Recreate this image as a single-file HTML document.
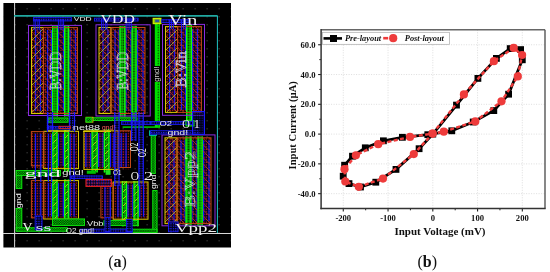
<!DOCTYPE html>
<html><head><meta charset="utf-8"><title>Layout and hysteresis</title>
<style>html,body{margin:0;padding:0;background:#fff;} body{width:550px;height:272px;overflow:hidden;position:relative;} svg{position:absolute;left:0;top:0;}</style>
</head><body>
<svg width="550" height="272" viewBox="0 0 550 272">

<defs>
<pattern id="hatchR" patternUnits="userSpaceOnUse" width="9" height="9">
 <path d="M0,9 L9,0 M-2,2 L2,-2 M7,11 L11,7" stroke="#b0b830" stroke-width="0.8"/>
</pattern>
<pattern id="hatchY" patternUnits="userSpaceOnUse" width="7" height="7">
 <path d="M0,7 L7,0 M-2,2 L2,-2 M5,9 L9,5" stroke="#d8d020" stroke-width="0.8"/>
</pattern>
<pattern id="hatchB" patternUnits="userSpaceOnUse" width="6.5" height="6.5">
 <path d="M0,0 L6.5,6.5 M-2,4.5 L2,8.5 M4.5,-2 L8.5,2" stroke="#c83820" stroke-width="0.8"/>
</pattern>
<pattern id="rdots" patternUnits="userSpaceOnUse" width="2.6" height="2.6">
 <rect x="0.5" y="0.5" width="1.25" height="1.25" fill="#d01c1c"/>
</pattern>
<pattern id="gchk" patternUnits="userSpaceOnUse" width="2.6" height="2.6">
 <rect width="2.6" height="2.6" fill="#00c800"/>
 <rect x="0.5" y="0.5" width="1.6" height="1.6" fill="#0a3000"/>
</pattern>
<pattern id="bdots" patternUnits="userSpaceOnUse" width="2.4" height="2.4">
 <rect width="2.4" height="2.4" fill="#000018"/>
 <rect x="0" y="0" width="1.2" height="1.2" fill="#2424ff"/>
</pattern>
<pattern id="gbar" patternUnits="userSpaceOnUse" width="2.4" height="2.4">
 <rect width="2.4" height="2.4" fill="#002000"/>
 <rect x="0" y="0" width="1.2" height="1.2" fill="#00e000"/>
 <rect x="1.2" y="1.2" width="1.2" height="1.2" fill="#00e000"/>
</pattern>
<pattern id="gbarB" patternUnits="userSpaceOnUse" x="154.8" y="0" width="5.2" height="2.6">
 <rect width="5.2" height="2.6" fill="#00e000"/>
 <rect x="3.0" y="0.6" width="1.2" height="1.3" fill="#063000"/>
</pattern>
<pattern id="bdotsT" patternUnits="userSpaceOnUse" width="2.4" height="2.4">
 <rect x="0" y="0" width="1.2" height="1.2" fill="#2424ff"/>
</pattern>
<pattern id="griddots" patternUnits="userSpaceOnUse" x="2.6" y="0.3" width="12" height="8">
 <rect x="0" y="0" width="1" height="1" fill="#555"/>
</pattern>
</defs>
<g id="layout">
<rect x="3.4" y="3" width="227.6" height="244.5" fill="#000"/>
<rect x="3" y="3" width="228" height="244.5" fill="url(#griddots)"/>
<rect x="31.50" y="27.60" width="46.00" height="85.90" fill="url(#rdots)" />
<rect x="35.50" y="30.00" width="5.00" height="81.10" fill="#00002a" />
<rect x="35.50" y="30.00" width="5.00" height="81.10" fill="url(#rdots)" />
<line x1="35.50" y1="30.00" x2="35.50" y2="111.10" stroke="#1a1aff" stroke-width="1.2" />
<line x1="40.50" y1="30.00" x2="40.50" y2="111.10" stroke="#1a1aff" stroke-width="1.2" />
<rect x="47.50" y="30.00" width="4.00" height="81.10" fill="#00002a" />
<rect x="47.50" y="30.00" width="4.00" height="81.10" fill="url(#rdots)" />
<line x1="47.50" y1="30.00" x2="47.50" y2="111.10" stroke="#1a1aff" stroke-width="1.2" />
<line x1="51.50" y1="30.00" x2="51.50" y2="111.10" stroke="#1a1aff" stroke-width="1.2" />
<rect x="58.50" y="30.00" width="5.00" height="81.10" fill="#00002a" />
<rect x="58.50" y="30.00" width="5.00" height="81.10" fill="url(#rdots)" />
<line x1="58.50" y1="30.00" x2="58.50" y2="111.10" stroke="#1a1aff" stroke-width="1.2" />
<line x1="63.50" y1="30.00" x2="63.50" y2="111.10" stroke="#1a1aff" stroke-width="1.2" />
<rect x="70.00" y="30.00" width="5.50" height="81.10" fill="#00002a" />
<rect x="70.00" y="30.00" width="5.50" height="81.10" fill="url(#rdots)" />
<line x1="70.00" y1="30.00" x2="70.00" y2="111.10" stroke="#1a1aff" stroke-width="1.2" />
<line x1="75.50" y1="30.00" x2="75.50" y2="111.10" stroke="#1a1aff" stroke-width="1.2" />
<rect x="43.50" y="27.60" width="34.00" height="85.90" fill="url(#hatchB)" />
<rect x="31.50" y="27.60" width="12.00" height="85.90" fill="url(#hatchB)" />
<rect x="31.50" y="27.60" width="12.00" height="85.90" fill="url(#hatchR)" />
<rect x="52.00" y="26.10" width="6.00" height="90.40" fill="url(#gchk)" />
<line x1="52.60" y1="26.10" x2="52.60" y2="116.50" stroke="#10ff10" stroke-width="1.2" />
<line x1="57.40" y1="26.10" x2="57.40" y2="116.50" stroke="#10ff10" stroke-width="1.2" />
<rect x="64.00" y="26.10" width="5.20" height="90.40" fill="url(#gchk)" />
<line x1="64.60" y1="26.10" x2="64.60" y2="116.50" stroke="#10ff10" stroke-width="1.2" />
<line x1="68.60" y1="26.10" x2="68.60" y2="116.50" stroke="#10ff10" stroke-width="1.2" />
<rect x="31.50" y="27.60" width="12.00" height="85.90" fill="none" stroke="#d8c800" stroke-width="1.0" />
<rect x="43.50" y="27.60" width="34.00" height="85.90" fill="none" stroke="#c04818" stroke-width="1.0" />
<rect x="28.50" y="25.40" width="53.00" height="90.10" fill="none" stroke="#8a2be2" stroke-width="1.0" />
<rect x="99.00" y="27.50" width="46.00" height="86.00" fill="url(#rdots)" />
<rect x="103.00" y="29.90" width="5.00" height="81.20" fill="#00002a" />
<rect x="103.00" y="29.90" width="5.00" height="81.20" fill="url(#rdots)" />
<line x1="103.00" y1="29.90" x2="103.00" y2="111.10" stroke="#1a1aff" stroke-width="1.2" />
<line x1="108.00" y1="29.90" x2="108.00" y2="111.10" stroke="#1a1aff" stroke-width="1.2" />
<rect x="115.00" y="29.90" width="4.00" height="81.20" fill="#00002a" />
<rect x="115.00" y="29.90" width="4.00" height="81.20" fill="url(#rdots)" />
<line x1="115.00" y1="29.90" x2="115.00" y2="111.10" stroke="#1a1aff" stroke-width="1.2" />
<line x1="119.00" y1="29.90" x2="119.00" y2="111.10" stroke="#1a1aff" stroke-width="1.2" />
<rect x="126.00" y="29.90" width="5.00" height="81.20" fill="#00002a" />
<rect x="126.00" y="29.90" width="5.00" height="81.20" fill="url(#rdots)" />
<line x1="126.00" y1="29.90" x2="126.00" y2="111.10" stroke="#1a1aff" stroke-width="1.2" />
<line x1="131.00" y1="29.90" x2="131.00" y2="111.10" stroke="#1a1aff" stroke-width="1.2" />
<rect x="137.50" y="29.90" width="5.50" height="81.20" fill="#00002a" />
<rect x="137.50" y="29.90" width="5.50" height="81.20" fill="url(#rdots)" />
<line x1="137.50" y1="29.90" x2="137.50" y2="111.10" stroke="#1a1aff" stroke-width="1.2" />
<line x1="143.00" y1="29.90" x2="143.00" y2="111.10" stroke="#1a1aff" stroke-width="1.2" />
<rect x="111.00" y="27.50" width="34.00" height="86.00" fill="url(#hatchB)" />
<rect x="99.00" y="27.50" width="12.00" height="86.00" fill="url(#hatchB)" />
<rect x="99.00" y="27.50" width="12.00" height="86.00" fill="url(#hatchR)" />
<rect x="119.50" y="26.00" width="6.00" height="90.50" fill="url(#gchk)" />
<line x1="120.10" y1="26.00" x2="120.10" y2="116.50" stroke="#10ff10" stroke-width="1.2" />
<line x1="124.90" y1="26.00" x2="124.90" y2="116.50" stroke="#10ff10" stroke-width="1.2" />
<rect x="131.50" y="26.00" width="5.20" height="90.50" fill="url(#gchk)" />
<line x1="132.10" y1="26.00" x2="132.10" y2="116.50" stroke="#10ff10" stroke-width="1.2" />
<line x1="136.10" y1="26.00" x2="136.10" y2="116.50" stroke="#10ff10" stroke-width="1.2" />
<rect x="99.00" y="27.50" width="12.00" height="86.00" fill="none" stroke="#d8c800" stroke-width="1.0" />
<rect x="111.00" y="27.50" width="34.00" height="86.00" fill="none" stroke="#c04818" stroke-width="1.0" />
<rect x="96.00" y="24.80" width="54.20" height="91.20" fill="none" stroke="#8a2be2" stroke-width="1.0" />
<rect x="165.50" y="26.60" width="35.90" height="85.80" fill="url(#rdots)" />
<rect x="169.50" y="29.00" width="5.00" height="81.00" fill="#00002a" />
<rect x="169.50" y="29.00" width="5.00" height="81.00" fill="url(#rdots)" />
<line x1="169.50" y1="29.00" x2="169.50" y2="110.00" stroke="#1a1aff" stroke-width="1.2" />
<line x1="174.50" y1="29.00" x2="174.50" y2="110.00" stroke="#1a1aff" stroke-width="1.2" />
<rect x="181.50" y="29.00" width="4.00" height="81.00" fill="#00002a" />
<rect x="181.50" y="29.00" width="4.00" height="81.00" fill="url(#rdots)" />
<line x1="181.50" y1="29.00" x2="181.50" y2="110.00" stroke="#1a1aff" stroke-width="1.2" />
<line x1="185.50" y1="29.00" x2="185.50" y2="110.00" stroke="#1a1aff" stroke-width="1.2" />
<rect x="192.50" y="29.00" width="5.00" height="81.00" fill="#00002a" />
<rect x="192.50" y="29.00" width="5.00" height="81.00" fill="url(#rdots)" />
<line x1="192.50" y1="29.00" x2="192.50" y2="110.00" stroke="#1a1aff" stroke-width="1.2" />
<line x1="197.50" y1="29.00" x2="197.50" y2="110.00" stroke="#1a1aff" stroke-width="1.2" />
<rect x="177.50" y="26.60" width="23.90" height="85.80" fill="url(#hatchB)" />
<rect x="165.50" y="26.60" width="12.00" height="85.80" fill="url(#hatchB)" />
<rect x="165.50" y="26.60" width="12.00" height="85.80" fill="url(#hatchR)" />
<rect x="186.00" y="25.10" width="6.00" height="100.30" fill="url(#gchk)" />
<line x1="186.60" y1="25.10" x2="186.60" y2="125.40" stroke="#10ff10" stroke-width="1.2" />
<line x1="191.40" y1="25.10" x2="191.40" y2="125.40" stroke="#10ff10" stroke-width="1.2" />
<rect x="165.50" y="26.60" width="12.00" height="85.80" fill="none" stroke="#d8c800" stroke-width="1.0" />
<rect x="177.50" y="26.60" width="23.90" height="85.80" fill="none" stroke="#c04818" stroke-width="1.0" />
<rect x="162.50" y="24.40" width="42.00" height="90.90" fill="none" stroke="#8a2be2" stroke-width="1.0" />
<rect x="165.00" y="137.80" width="46.00" height="85.80" fill="url(#rdots)" />
<rect x="169.00" y="140.20" width="5.00" height="81.00" fill="#00002a" />
<rect x="169.00" y="140.20" width="5.00" height="81.00" fill="url(#rdots)" />
<line x1="169.00" y1="140.20" x2="169.00" y2="221.20" stroke="#1a1aff" stroke-width="1.2" />
<line x1="174.00" y1="140.20" x2="174.00" y2="221.20" stroke="#1a1aff" stroke-width="1.2" />
<rect x="181.00" y="140.20" width="4.00" height="81.00" fill="#00002a" />
<rect x="181.00" y="140.20" width="4.00" height="81.00" fill="url(#rdots)" />
<line x1="181.00" y1="140.20" x2="181.00" y2="221.20" stroke="#1a1aff" stroke-width="1.2" />
<line x1="185.00" y1="140.20" x2="185.00" y2="221.20" stroke="#1a1aff" stroke-width="1.2" />
<rect x="192.00" y="140.20" width="5.00" height="81.00" fill="#00002a" />
<rect x="192.00" y="140.20" width="5.00" height="81.00" fill="url(#rdots)" />
<line x1="192.00" y1="140.20" x2="192.00" y2="221.20" stroke="#1a1aff" stroke-width="1.2" />
<line x1="197.00" y1="140.20" x2="197.00" y2="221.20" stroke="#1a1aff" stroke-width="1.2" />
<rect x="203.50" y="140.20" width="5.50" height="81.00" fill="#00002a" />
<rect x="203.50" y="140.20" width="5.50" height="81.00" fill="url(#rdots)" />
<line x1="203.50" y1="140.20" x2="203.50" y2="221.20" stroke="#1a1aff" stroke-width="1.2" />
<line x1="209.00" y1="140.20" x2="209.00" y2="221.20" stroke="#1a1aff" stroke-width="1.2" />
<rect x="177.00" y="137.80" width="34.00" height="85.80" fill="url(#hatchB)" />
<rect x="165.00" y="137.80" width="12.00" height="85.80" fill="url(#hatchB)" />
<rect x="165.00" y="137.80" width="12.00" height="85.80" fill="url(#hatchR)" />
<rect x="185.50" y="136.30" width="6.00" height="90.30" fill="url(#gchk)" />
<line x1="186.10" y1="136.30" x2="186.10" y2="226.60" stroke="#10ff10" stroke-width="1.2" />
<line x1="190.90" y1="136.30" x2="190.90" y2="226.60" stroke="#10ff10" stroke-width="1.2" />
<rect x="197.50" y="136.30" width="5.20" height="90.30" fill="url(#gchk)" />
<line x1="198.10" y1="136.30" x2="198.10" y2="226.60" stroke="#10ff10" stroke-width="1.2" />
<line x1="202.10" y1="136.30" x2="202.10" y2="226.60" stroke="#10ff10" stroke-width="1.2" />
<rect x="165.00" y="137.80" width="12.00" height="85.80" fill="none" stroke="#d8c800" stroke-width="1.0" />
<rect x="177.00" y="137.80" width="34.00" height="85.80" fill="none" stroke="#c04818" stroke-width="1.0" />
<rect x="162.00" y="134.90" width="53.00" height="90.90" fill="none" stroke="#8a2be2" stroke-width="1.0" />
<rect x="31.40" y="131.30" width="47.10" height="37.30" fill="url(#rdots)" />
<rect x="35.40" y="133.70" width="5.40" height="32.50" fill="#00002a" />
<rect x="35.40" y="133.70" width="5.40" height="32.50" fill="url(#rdots)" />
<line x1="35.40" y1="133.70" x2="35.40" y2="166.20" stroke="#1a1aff" stroke-width="1.2" />
<line x1="40.80" y1="133.70" x2="40.80" y2="166.20" stroke="#1a1aff" stroke-width="1.2" />
<rect x="48.40" y="133.70" width="3.20" height="32.50" fill="#00002a" />
<rect x="48.40" y="133.70" width="3.20" height="32.50" fill="url(#rdots)" />
<line x1="48.40" y1="133.70" x2="48.40" y2="166.20" stroke="#1a1aff" stroke-width="1.2" />
<line x1="51.60" y1="133.70" x2="51.60" y2="166.20" stroke="#1a1aff" stroke-width="1.2" />
<rect x="58.40" y="133.70" width="4.90" height="32.50" fill="#00002a" />
<rect x="58.40" y="133.70" width="4.90" height="32.50" fill="url(#rdots)" />
<line x1="58.40" y1="133.70" x2="58.40" y2="166.20" stroke="#1a1aff" stroke-width="1.2" />
<line x1="63.30" y1="133.70" x2="63.30" y2="166.20" stroke="#1a1aff" stroke-width="1.2" />
<rect x="70.20" y="133.70" width="3.90" height="32.50" fill="#00002a" />
<rect x="70.20" y="133.70" width="3.90" height="32.50" fill="url(#rdots)" />
<line x1="70.20" y1="133.70" x2="70.20" y2="166.20" stroke="#1a1aff" stroke-width="1.2" />
<line x1="74.10" y1="133.70" x2="74.10" y2="166.20" stroke="#1a1aff" stroke-width="1.2" />
<rect x="52.30" y="129.80" width="5.30" height="41.80" fill="url(#gchk)" />
<rect x="52.30" y="129.80" width="5.30" height="41.80" fill="url(#hatchY)" />
<line x1="52.90" y1="129.80" x2="52.90" y2="171.60" stroke="#10ff10" stroke-width="1.2" />
<line x1="57.00" y1="129.80" x2="57.00" y2="171.60" stroke="#10ff10" stroke-width="1.2" />
<rect x="64.00" y="129.80" width="5.20" height="41.80" fill="url(#gchk)" />
<rect x="64.00" y="129.80" width="5.20" height="41.80" fill="url(#hatchY)" />
<line x1="64.60" y1="129.80" x2="64.60" y2="171.60" stroke="#10ff10" stroke-width="1.2" />
<line x1="68.60" y1="129.80" x2="68.60" y2="171.60" stroke="#10ff10" stroke-width="1.2" />
<rect x="43.70" y="131.30" width="34.80" height="37.30" fill="none" stroke="#d8c800" stroke-width="1.0" />
<rect x="31.40" y="131.60" width="12.30" height="34.20" fill="none" stroke="#c04818" stroke-width="1.0" />
<rect x="31.40" y="180.60" width="47.10" height="38.40" fill="url(#rdots)" />
<rect x="35.40" y="183.00" width="5.40" height="33.60" fill="#00002a" />
<rect x="35.40" y="183.00" width="5.40" height="33.60" fill="url(#rdots)" />
<line x1="35.40" y1="183.00" x2="35.40" y2="216.60" stroke="#1a1aff" stroke-width="1.2" />
<line x1="40.80" y1="183.00" x2="40.80" y2="216.60" stroke="#1a1aff" stroke-width="1.2" />
<rect x="48.40" y="183.00" width="3.20" height="33.60" fill="#00002a" />
<rect x="48.40" y="183.00" width="3.20" height="33.60" fill="url(#rdots)" />
<line x1="48.40" y1="183.00" x2="48.40" y2="216.60" stroke="#1a1aff" stroke-width="1.2" />
<line x1="51.60" y1="183.00" x2="51.60" y2="216.60" stroke="#1a1aff" stroke-width="1.2" />
<rect x="58.40" y="183.00" width="4.90" height="33.60" fill="#00002a" />
<rect x="58.40" y="183.00" width="4.90" height="33.60" fill="url(#rdots)" />
<line x1="58.40" y1="183.00" x2="58.40" y2="216.60" stroke="#1a1aff" stroke-width="1.2" />
<line x1="63.30" y1="183.00" x2="63.30" y2="216.60" stroke="#1a1aff" stroke-width="1.2" />
<rect x="70.20" y="183.00" width="3.90" height="33.60" fill="#00002a" />
<rect x="70.20" y="183.00" width="3.90" height="33.60" fill="url(#rdots)" />
<line x1="70.20" y1="183.00" x2="70.20" y2="216.60" stroke="#1a1aff" stroke-width="1.2" />
<line x1="74.10" y1="183.00" x2="74.10" y2="216.60" stroke="#1a1aff" stroke-width="1.2" />
<rect x="52.30" y="179.60" width="5.30" height="46.40" fill="url(#gchk)" />
<rect x="52.30" y="179.60" width="5.30" height="46.40" fill="url(#hatchY)" />
<line x1="52.90" y1="179.60" x2="52.90" y2="226.00" stroke="#10ff10" stroke-width="1.2" />
<line x1="57.00" y1="179.60" x2="57.00" y2="226.00" stroke="#10ff10" stroke-width="1.2" />
<rect x="64.00" y="179.60" width="5.20" height="46.40" fill="url(#gchk)" />
<rect x="64.00" y="179.60" width="5.20" height="46.40" fill="url(#hatchY)" />
<line x1="64.60" y1="179.60" x2="64.60" y2="226.00" stroke="#10ff10" stroke-width="1.2" />
<line x1="68.60" y1="179.60" x2="68.60" y2="226.00" stroke="#10ff10" stroke-width="1.2" />
<rect x="43.70" y="180.60" width="34.80" height="38.40" fill="none" stroke="#d8c800" stroke-width="1.0" />
<rect x="31.40" y="180.60" width="12.30" height="37.20" fill="none" stroke="#c04818" stroke-width="1.0" />
<rect x="100.90" y="182.00" width="47.10" height="37.20" fill="url(#rdots)" />
<rect x="104.90" y="184.40" width="5.40" height="32.40" fill="#00002a" />
<rect x="104.90" y="184.40" width="5.40" height="32.40" fill="url(#rdots)" />
<line x1="104.90" y1="184.40" x2="104.90" y2="216.80" stroke="#1a1aff" stroke-width="1.2" />
<line x1="110.30" y1="184.40" x2="110.30" y2="216.80" stroke="#1a1aff" stroke-width="1.2" />
<rect x="117.90" y="184.40" width="3.20" height="32.40" fill="#00002a" />
<rect x="117.90" y="184.40" width="3.20" height="32.40" fill="url(#rdots)" />
<line x1="117.90" y1="184.40" x2="117.90" y2="216.80" stroke="#1a1aff" stroke-width="1.2" />
<line x1="121.10" y1="184.40" x2="121.10" y2="216.80" stroke="#1a1aff" stroke-width="1.2" />
<rect x="127.90" y="184.40" width="4.90" height="32.40" fill="#00002a" />
<rect x="127.90" y="184.40" width="4.90" height="32.40" fill="url(#rdots)" />
<line x1="127.90" y1="184.40" x2="127.90" y2="216.80" stroke="#1a1aff" stroke-width="1.2" />
<line x1="132.80" y1="184.40" x2="132.80" y2="216.80" stroke="#1a1aff" stroke-width="1.2" />
<rect x="139.70" y="184.40" width="3.90" height="32.40" fill="#00002a" />
<rect x="139.70" y="184.40" width="3.90" height="32.40" fill="url(#rdots)" />
<line x1="139.70" y1="184.40" x2="139.70" y2="216.80" stroke="#1a1aff" stroke-width="1.2" />
<line x1="143.60" y1="184.40" x2="143.60" y2="216.80" stroke="#1a1aff" stroke-width="1.2" />
<rect x="121.80" y="181.00" width="5.30" height="45.20" fill="url(#gchk)" />
<rect x="121.80" y="181.00" width="5.30" height="45.20" fill="url(#hatchY)" />
<line x1="122.40" y1="181.00" x2="122.40" y2="226.20" stroke="#10ff10" stroke-width="1.2" />
<line x1="126.50" y1="181.00" x2="126.50" y2="226.20" stroke="#10ff10" stroke-width="1.2" />
<rect x="133.50" y="181.00" width="5.20" height="45.20" fill="url(#gchk)" />
<rect x="133.50" y="181.00" width="5.20" height="45.20" fill="url(#hatchY)" />
<line x1="134.10" y1="181.00" x2="134.10" y2="226.20" stroke="#10ff10" stroke-width="1.2" />
<line x1="138.10" y1="181.00" x2="138.10" y2="226.20" stroke="#10ff10" stroke-width="1.2" />
<rect x="113.20" y="182.00" width="34.80" height="37.20" fill="none" stroke="#d8c800" stroke-width="1.0" />
<rect x="100.90" y="183.40" width="12.30" height="34.40" fill="none" stroke="#c04818" stroke-width="1.0" />
<rect x="83.90" y="130.80" width="46.60" height="38.60" fill="url(#rdots)" />
<rect x="85.90" y="133.20" width="4.90" height="33.80" fill="#00002a" />
<rect x="85.90" y="133.20" width="4.90" height="33.80" fill="url(#rdots)" />
<line x1="85.90" y1="133.20" x2="85.90" y2="167.00" stroke="#1a1aff" stroke-width="1.2" />
<line x1="90.80" y1="133.20" x2="90.80" y2="167.00" stroke="#1a1aff" stroke-width="1.2" />
<rect x="98.60" y="133.20" width="4.50" height="33.80" fill="#00002a" />
<rect x="98.60" y="133.20" width="4.50" height="33.80" fill="url(#rdots)" />
<line x1="98.60" y1="133.20" x2="98.60" y2="167.00" stroke="#1a1aff" stroke-width="1.2" />
<line x1="103.10" y1="133.20" x2="103.10" y2="167.00" stroke="#1a1aff" stroke-width="1.2" />
<rect x="110.40" y="133.20" width="3.50" height="33.80" fill="#00002a" />
<rect x="110.40" y="133.20" width="3.50" height="33.80" fill="url(#rdots)" />
<line x1="110.40" y1="133.20" x2="110.40" y2="167.00" stroke="#1a1aff" stroke-width="1.2" />
<line x1="113.90" y1="133.20" x2="113.90" y2="167.00" stroke="#1a1aff" stroke-width="1.2" />
<rect x="121.20" y="133.20" width="4.90" height="33.80" fill="#00002a" />
<rect x="121.20" y="133.20" width="4.90" height="33.80" fill="url(#rdots)" />
<line x1="121.20" y1="133.20" x2="121.20" y2="167.00" stroke="#1a1aff" stroke-width="1.2" />
<line x1="126.10" y1="133.20" x2="126.10" y2="167.00" stroke="#1a1aff" stroke-width="1.2" />
<rect x="91.60" y="129.30" width="6.20" height="43.10" fill="url(#gchk)" />
<rect x="91.60" y="129.30" width="6.20" height="43.10" fill="url(#hatchY)" />
<line x1="92.20" y1="129.30" x2="92.20" y2="172.40" stroke="#10ff10" stroke-width="1.2" />
<line x1="97.20" y1="129.30" x2="97.20" y2="172.40" stroke="#10ff10" stroke-width="1.2" />
<rect x="103.80" y="129.30" width="5.70" height="43.10" fill="url(#gchk)" />
<rect x="103.80" y="129.30" width="5.70" height="43.10" fill="url(#hatchY)" />
<line x1="104.40" y1="129.30" x2="104.40" y2="172.40" stroke="#10ff10" stroke-width="1.2" />
<line x1="108.90" y1="129.30" x2="108.90" y2="172.40" stroke="#10ff10" stroke-width="1.2" />
<rect x="83.90" y="130.80" width="34.40" height="38.60" fill="none" stroke="#d8c800" stroke-width="1.0" />
<rect x="118.30" y="130.80" width="12.20" height="36.70" fill="none" stroke="#c04818" stroke-width="1.0" />
<rect x="154.80" y="23.40" width="5.20" height="42.60" fill="url(#gbarB)" />
<rect x="154.80" y="81.80" width="5.20" height="45.40" fill="url(#gbarB)" />
<rect x="153.20" y="18.40" width="7.70" height="5.20" fill="#90c010" stroke="#c8f000" stroke-width="1.2" />
<rect x="155.20" y="19.60" width="4.00" height="2.60" fill="#3050a0" />
<rect x="150.80" y="134.40" width="4.80" height="39.60" fill="url(#gbar)" />
<rect x="151.20" y="134.80" width="4.00" height="38.80" fill="none" stroke="#10f010" stroke-width="0.8" />
<rect x="149.60" y="130.80" width="6.80" height="4.60" fill="#003a8a" stroke="#00c0a0" stroke-width="1" />
<rect x="152.40" y="190.00" width="5.00" height="42.60" fill="url(#gbar)" />
<rect x="152.80" y="190.40" width="4.20" height="41.80" fill="none" stroke="#10f010" stroke-width="0.8" />
<rect x="15.80" y="208.00" width="6.40" height="23.40" fill="url(#gbar)" />
<rect x="16.20" y="208.40" width="5.60" height="22.60" fill="none" stroke="#10f010" stroke-width="0.8" />
<rect x="15.80" y="170.00" width="6.40" height="19.00" fill="url(#gbar)" />
<rect x="16.20" y="170.40" width="5.60" height="18.20" fill="none" stroke="#10f010" stroke-width="0.8" />
<rect x="15.80" y="170.00" width="45.00" height="6.00" fill="url(#gbar)" />
<rect x="16.20" y="170.40" width="44.20" height="5.20" fill="none" stroke="#10f010" stroke-width="0.8" />
<rect x="15.80" y="227.40" width="52.00" height="4.20" fill="url(#gbar)" />
<rect x="16.20" y="227.80" width="51.20" height="3.40" fill="none" stroke="#10f010" stroke-width="0.8" />
<rect x="104.00" y="228.80" width="53.40" height="4.00" fill="url(#gbar)" />
<rect x="104.40" y="229.20" width="52.60" height="3.20" fill="none" stroke="#10f010" stroke-width="0.8" />
<rect x="52.00" y="218.60" width="33.00" height="7.20" fill="url(#gbar)" />
<rect x="52.40" y="219.00" width="32.20" height="6.40" fill="none" stroke="#10f010" stroke-width="0.8" />
<rect x="103.60" y="220.20" width="34.40" height="5.60" fill="url(#gbar)" />
<rect x="104.00" y="220.60" width="33.60" height="4.80" fill="none" stroke="#10f010" stroke-width="0.8" />
<rect x="86.00" y="117.40" width="51.40" height="3.40" fill="url(#gbar)" />
<rect x="86.40" y="117.80" width="50.60" height="2.60" fill="none" stroke="#10f010" stroke-width="0.8" />
<rect x="86.00" y="117.20" width="7.00" height="5.00" fill="#2a5a10" stroke="#d8c800" stroke-width="0.8" />
<rect x="48.00" y="117.60" width="20.40" height="5.00" fill="url(#gbar)" />
<rect x="48.40" y="118.00" width="19.60" height="4.20" fill="none" stroke="#10f010" stroke-width="0.8" />
<rect x="122.60" y="126.40" width="37.60" height="1.40" fill="#00e000" />
<rect x="86.80" y="170.60" width="9.00" height="3.20" fill="#00c000" />
<rect x="105.60" y="170.20" width="5.00" height="4.60" fill="#20e020" />
<rect x="85.60" y="117.40" width="6.00" height="5.00" fill="url(#gbar)" />
<rect x="86.00" y="117.80" width="5.20" height="4.20" fill="none" stroke="#10f010" stroke-width="0.8" />
<rect x="33.00" y="17.30" width="39.00" height="4.00" fill="url(#bdots)" />
<rect x="33.40" y="17.70" width="38.20" height="3.20" fill="none" stroke="#1a1aff" stroke-width="0.8" />
<rect x="94.00" y="17.80" width="44.50" height="3.60" fill="url(#bdots)" />
<rect x="94.40" y="18.20" width="43.70" height="2.80" fill="none" stroke="#1a1aff" stroke-width="0.8" />
<rect x="161.40" y="19.40" width="28.00" height="3.40" fill="url(#bdots)" />
<rect x="161.80" y="19.80" width="27.20" height="2.60" fill="none" stroke="#1a1aff" stroke-width="0.8" />
<line x1="169.60" y1="19.50" x2="169.60" y2="29.00" stroke="#1a1aff" stroke-width="1.0" />
<line x1="171.40" y1="19.50" x2="171.40" y2="29.00" stroke="#1a1aff" stroke-width="1.0" />
<line x1="173.40" y1="19.50" x2="173.40" y2="29.00" stroke="#1a1aff" stroke-width="1.0" />
<line x1="181.60" y1="19.50" x2="181.60" y2="29.00" stroke="#1a1aff" stroke-width="1.0" />
<line x1="183.60" y1="19.50" x2="183.60" y2="29.00" stroke="#1a1aff" stroke-width="1.0" />
<line x1="185.60" y1="19.50" x2="185.60" y2="29.00" stroke="#1a1aff" stroke-width="1.0" />
<line x1="34.00" y1="19.00" x2="34.00" y2="30.00" stroke="#1a1aff" stroke-width="0.9" />
<line x1="35.70" y1="19.00" x2="35.70" y2="30.00" stroke="#1a1aff" stroke-width="0.9" />
<line x1="37.90" y1="19.00" x2="37.90" y2="30.00" stroke="#1a1aff" stroke-width="0.9" />
<line x1="39.60" y1="19.00" x2="39.60" y2="30.00" stroke="#1a1aff" stroke-width="0.9" />
<line x1="58.40" y1="19.00" x2="58.40" y2="30.00" stroke="#1a1aff" stroke-width="0.9" />
<line x1="60.20" y1="19.00" x2="60.20" y2="30.00" stroke="#1a1aff" stroke-width="0.9" />
<line x1="62.00" y1="19.00" x2="62.00" y2="30.00" stroke="#1a1aff" stroke-width="0.9" />
<line x1="63.60" y1="19.00" x2="63.60" y2="30.00" stroke="#1a1aff" stroke-width="0.9" />
<line x1="101.50" y1="19.00" x2="101.50" y2="30.00" stroke="#1a1aff" stroke-width="0.9" />
<line x1="103.20" y1="19.00" x2="103.20" y2="30.00" stroke="#1a1aff" stroke-width="0.9" />
<line x1="105.40" y1="19.00" x2="105.40" y2="30.00" stroke="#1a1aff" stroke-width="0.9" />
<line x1="107.00" y1="19.00" x2="107.00" y2="30.00" stroke="#1a1aff" stroke-width="0.9" />
<line x1="126.20" y1="19.00" x2="126.20" y2="30.00" stroke="#1a1aff" stroke-width="0.9" />
<line x1="128.00" y1="19.00" x2="128.00" y2="30.00" stroke="#1a1aff" stroke-width="0.9" />
<line x1="129.80" y1="19.00" x2="129.80" y2="30.00" stroke="#1a1aff" stroke-width="0.9" />
<line x1="131.40" y1="19.00" x2="131.40" y2="30.00" stroke="#1a1aff" stroke-width="0.9" />
<rect x="48.00" y="126.00" width="22.00" height="3.40" fill="url(#bdots)" />
<rect x="48.40" y="126.40" width="21.20" height="2.60" fill="none" stroke="#1a1aff" stroke-width="0.8" />
<rect x="121.00" y="121.20" width="37.00" height="3.70" fill="url(#bdots)" />
<rect x="121.40" y="121.60" width="36.20" height="2.90" fill="none" stroke="#1a1aff" stroke-width="0.8" />
<rect x="150.00" y="121.00" width="44.00" height="4.00" fill="url(#bdots)" />
<rect x="150.40" y="121.40" width="43.20" height="3.20" fill="none" stroke="#1a1aff" stroke-width="0.8" />
<rect x="150.00" y="130.40" width="48.60" height="4.00" fill="url(#bdots)" />
<rect x="150.40" y="130.80" width="47.80" height="3.20" fill="none" stroke="#1a1aff" stroke-width="0.8" />
<rect x="192.60" y="111.60" width="11.80" height="22.80" fill="url(#bdots)" opacity="0.55"/>
<rect x="186.00" y="120.60" width="8.00" height="5.40" fill="none" stroke="#10e010" stroke-width="1.0" />
<rect x="192.60" y="111.60" width="11.80" height="22.80" fill="none" stroke="#1a1aff" stroke-width="1.2" />
<rect x="71.00" y="175.60" width="32.00" height="3.40" fill="url(#bdots)" />
<rect x="71.40" y="176.00" width="31.20" height="2.60" fill="none" stroke="#1a1aff" stroke-width="0.8" />
<rect x="80.00" y="228.80" width="52.50" height="4.20" fill="url(#bdots)" />
<rect x="80.40" y="229.20" width="51.70" height="3.40" fill="none" stroke="#1a1aff" stroke-width="0.8" />
<rect x="168.00" y="221.60" width="10.40" height="10.60" fill="url(#bdots)" />
<rect x="168.40" y="222.00" width="9.60" height="9.80" fill="none" stroke="#1a1aff" stroke-width="0.8" />
<rect x="34.80" y="215.60" width="7.60" height="14.60" fill="url(#bdots)" />
<rect x="35.20" y="216.00" width="6.80" height="13.80" fill="none" stroke="#1a1aff" stroke-width="0.8" />
<rect x="114.20" y="112.00" width="5.40" height="74.00" fill="url(#bdotsT)" />
<line x1="114.70" y1="112.00" x2="114.70" y2="186.00" stroke="#1a1aff" stroke-width="1.1" />
<line x1="119.10" y1="112.00" x2="119.10" y2="186.00" stroke="#1a1aff" stroke-width="1.1" />
<rect x="131.00" y="112.00" width="5.40" height="29.00" fill="url(#bdotsT)" />
<line x1="131.50" y1="112.00" x2="131.50" y2="141.00" stroke="#1a1aff" stroke-width="1.1" />
<line x1="135.90" y1="112.00" x2="135.90" y2="141.00" stroke="#1a1aff" stroke-width="1.1" />
<rect x="138.40" y="112.00" width="5.40" height="74.00" fill="url(#bdotsT)" />
<line x1="138.90" y1="112.00" x2="138.90" y2="186.00" stroke="#1a1aff" stroke-width="1.1" />
<line x1="143.30" y1="112.00" x2="143.30" y2="186.00" stroke="#1a1aff" stroke-width="1.1" />
<line x1="35.40" y1="164.00" x2="35.40" y2="182.00" stroke="#1a1aff" stroke-width="1.2" />
<line x1="40.80" y1="164.00" x2="40.80" y2="182.00" stroke="#1a1aff" stroke-width="1.2" />
<line x1="48.40" y1="164.00" x2="48.40" y2="182.00" stroke="#1a1aff" stroke-width="1.2" />
<line x1="51.60" y1="164.00" x2="51.60" y2="182.00" stroke="#1a1aff" stroke-width="1.2" />
<line x1="70.20" y1="164.00" x2="70.20" y2="182.00" stroke="#1a1aff" stroke-width="1.2" />
<line x1="74.10" y1="164.00" x2="74.10" y2="182.00" stroke="#1a1aff" stroke-width="1.2" />
<rect x="46.80" y="112.00" width="6.40" height="20.00" fill="url(#bdotsT)" />
<rect x="68.80" y="112.00" width="6.40" height="20.00" fill="url(#bdotsT)" />
<line x1="47.50" y1="112.00" x2="47.50" y2="132.00" stroke="#1a1aff" stroke-width="1.2" />
<line x1="52.50" y1="112.00" x2="52.50" y2="132.00" stroke="#1a1aff" stroke-width="1.2" />
<line x1="69.50" y1="112.00" x2="69.50" y2="132.00" stroke="#1a1aff" stroke-width="1.2" />
<line x1="74.50" y1="112.00" x2="74.50" y2="132.00" stroke="#1a1aff" stroke-width="1.2" />
<rect x="59.00" y="126.30" width="11.30" height="2.30" fill="none" stroke="#e02818" stroke-width="0.9" />
<rect x="86.00" y="179.40" width="25.40" height="7.00" fill="url(#bdots)" />
<rect x="86.00" y="179.40" width="25.40" height="7.00" fill="url(#rdots)" />
<rect x="86.00" y="179.40" width="25.40" height="7.00" fill="none" stroke="#e02020" stroke-width="1.1" />
<line x1="48.00" y1="130.80" x2="70.00" y2="130.80" stroke="#d8c800" stroke-width="1" />
<line x1="83.00" y1="131.50" x2="111.00" y2="131.50" stroke="#d8c800" stroke-width="1" />
<rect x="104.60" y="217.00" width="5.80" height="15.00" fill="url(#bdots)" />
<rect x="105.00" y="217.40" width="5.00" height="14.20" fill="none" stroke="#1a1aff" stroke-width="0.8" />
<rect x="126.00" y="219.00" width="6.40" height="13.00" fill="url(#bdots)" />
<rect x="126.40" y="219.40" width="5.60" height="12.20" fill="none" stroke="#1a1aff" stroke-width="0.8" />
<line x1="14.60" y1="3.00" x2="14.60" y2="247.50" stroke="#d8d8d8" stroke-width="1" />
<line x1="3.00" y1="233.50" x2="231.00" y2="233.50" stroke="#d8d8d8" stroke-width="1" />
<line x1="14.00" y1="15.90" x2="217.60" y2="15.90" stroke="#20a8a0" stroke-width="1.6" />
<line x1="217.40" y1="15.90" x2="217.40" y2="233.00" stroke="#20c8c8" stroke-width="1" />
<text x="73.80" y="21.20" font-family="'Liberation Sans', sans-serif" font-size="5.6" font-weight="normal" font-style="normal" fill="#e8e8e8" text-anchor="start" textLength="17.8" lengthAdjust="spacingAndGlyphs">VDD</text>
<text x="100.60" y="22.80" font-family="'Liberation Serif', serif" font-size="12.5" font-weight="normal" font-style="normal" fill="#f0f0f0" text-anchor="start" textLength="34.2" lengthAdjust="spacingAndGlyphs">VDD</text>
<text x="168.30" y="25.40" font-family="'Liberation Serif', serif" font-size="13.6" font-weight="normal" font-style="normal" fill="#f0f0f0" text-anchor="start" textLength="29.2" lengthAdjust="spacingAndGlyphs">Vin</text>
<text x="159.60" y="125.80" font-family="'Liberation Sans', sans-serif" font-size="7.2" font-weight="normal" font-style="normal" fill="#e8e8e8" text-anchor="start" textLength="12.4" lengthAdjust="spacingAndGlyphs">O2</text>
<text x="182.20" y="127.90" font-family="'Liberation Serif', serif" font-size="13" font-weight="normal" font-style="normal" fill="#f0f0f0" text-anchor="start" textLength="7.6" lengthAdjust="spacingAndGlyphs">O</text>
<text x="193.80" y="127.90" font-family="'Liberation Serif', serif" font-size="12.5" font-weight="normal" font-style="normal" fill="#f0f0f0" text-anchor="start" textLength="6.2" lengthAdjust="spacingAndGlyphs">1</text>
<text x="72.80" y="129.60" font-family="'Liberation Sans', sans-serif" font-size="8" font-weight="normal" font-style="normal" fill="#e8e8e8" text-anchor="start" textLength="27.4" lengthAdjust="spacingAndGlyphs">net88</text>
<text x="102.00" y="129.80" font-family="'Liberation Sans', sans-serif" font-size="7.4" font-weight="normal" font-style="normal" fill="#ff6060" text-anchor="start" textLength="13" lengthAdjust="spacingAndGlyphs">gnd!</text>
<text x="167.60" y="135.10" font-family="'Liberation Sans', sans-serif" font-size="6.6" font-weight="normal" font-style="normal" fill="#e8e8e8" text-anchor="start" textLength="20.6" lengthAdjust="spacingAndGlyphs">gnd!</text>
<text x="24.40" y="176.60" font-family="'Liberation Serif', serif" font-size="11" font-weight="normal" font-style="normal" fill="#f0f0f0" text-anchor="start" textLength="36.3" lengthAdjust="spacingAndGlyphs">gnd</text>
<text x="62.20" y="175.20" font-family="'Liberation Sans', sans-serif" font-size="6.4" font-weight="normal" font-style="normal" fill="#e8e8e8" text-anchor="start" textLength="21.8" lengthAdjust="spacingAndGlyphs">gnd!</text>
<text x="113.00" y="175.40" font-family="'Liberation Sans', sans-serif" font-size="6.6" font-weight="normal" font-style="normal" fill="#e8e8e8" text-anchor="start" textLength="8.4" lengthAdjust="spacingAndGlyphs">O1</text>
<text x="130.80" y="180.20" font-family="'Liberation Serif', serif" font-size="13" font-weight="normal" font-style="normal" fill="#f0f0f0" text-anchor="start" textLength="8.2" lengthAdjust="spacingAndGlyphs">O</text>
<text x="143.80" y="180.20" font-family="'Liberation Serif', serif" font-size="12.5" font-weight="normal" font-style="normal" fill="#f0f0f0" text-anchor="start" textLength="9.4" lengthAdjust="spacingAndGlyphs">2</text>
<text x="22.40" y="230.80" font-family="'Liberation Serif', serif" font-size="12" font-weight="normal" font-style="normal" fill="#f0f0f0" text-anchor="start" textLength="10" lengthAdjust="spacingAndGlyphs">V</text>
<text x="35.60" y="230.80" font-family="'Liberation Serif', serif" font-size="11" font-weight="normal" font-style="normal" fill="#d8e0ff" text-anchor="start" textLength="15.8" lengthAdjust="spacingAndGlyphs">ss</text>
<text x="87.00" y="226.20" font-family="'Liberation Sans', sans-serif" font-size="7.2" font-weight="normal" font-style="normal" fill="#e8e8e8" text-anchor="start" textLength="16.5" lengthAdjust="spacingAndGlyphs">Vbb</text>
<text x="65.80" y="233.20" font-family="'Liberation Sans', sans-serif" font-size="7.4" font-weight="normal" font-style="normal" fill="#e8e8e8" text-anchor="start" textLength="28.5" lengthAdjust="spacingAndGlyphs">O2 gnd!</text>
<text x="174.90" y="232.20" font-family="'Liberation Serif', serif" font-size="13" font-weight="normal" font-style="normal" fill="#f0f0f0" text-anchor="start" textLength="42" lengthAdjust="spacingAndGlyphs">Vpp2</text>
<text transform="translate(158.6,81.8) rotate(-90)" font-family="Liberation Sans, sans-serif" font-size="7" fill="#d0d0d0" textLength="15.4" lengthAdjust="spacingAndGlyphs">gnd!</text>
<text transform="translate(137.9,151.2) rotate(-90)" font-family="Liberation Sans, sans-serif" font-size="10.6" fill="#f0f0f0" textLength="8.3" lengthAdjust="spacingAndGlyphs">O2</text>
<text transform="translate(145.9,157.0) rotate(-90)" font-family="Liberation Sans, sans-serif" font-size="10.6" fill="#f0f0f0" textLength="8.4" lengthAdjust="spacingAndGlyphs">O2</text>
<text transform="translate(155.7,189.1) rotate(-90)" font-family="Liberation Sans, sans-serif" font-size="6.8" fill="#f0f0f0" textLength="14.5" lengthAdjust="spacingAndGlyphs">gnd</text>
<text transform="translate(20.9,208.2) rotate(-90)" font-family="Liberation Sans, sans-serif" font-size="7" fill="#f0f0f0" textLength="15" lengthAdjust="spacingAndGlyphs">gnd</text>
<text transform="translate(60.6,90) rotate(-90)" font-family="Liberation Serif, serif" font-size="17" fill="none" stroke="#ececf4" stroke-width="0.5" textLength="38" lengthAdjust="spacingAndGlyphs">B:VDD</text>
<text transform="translate(128.2,90) rotate(-90)" font-family="Liberation Serif, serif" font-size="17" fill="none" stroke="#ececf4" stroke-width="0.5" textLength="38" lengthAdjust="spacingAndGlyphs">B:VDD</text>
<text transform="translate(186,87.5) rotate(-90)" font-family="Liberation Serif, serif" font-size="15" fill="none" stroke="#ececf4" stroke-width="0.5" textLength="36.5" lengthAdjust="spacingAndGlyphs">B:Vin</text>
<text transform="translate(195,207) rotate(-90)" font-family="Liberation Serif, serif" font-size="14" fill="none" stroke="#ececf4" stroke-width="0.35" textLength="56" lengthAdjust="spacingAndGlyphs">B:Vpp2</text>
</g>
<g id="chart">
<line x1="343.28" y1="29.80" x2="343.28" y2="208.50" stroke="#c8c8c8" stroke-width="0.6" stroke-dasharray="1,1.5"/>
<line x1="388.04" y1="29.80" x2="388.04" y2="208.50" stroke="#c8c8c8" stroke-width="0.6" stroke-dasharray="1,1.5"/>
<line x1="432.80" y1="29.80" x2="432.80" y2="208.50" stroke="#c8c8c8" stroke-width="0.6" stroke-dasharray="1,1.5"/>
<line x1="477.56" y1="29.80" x2="477.56" y2="208.50" stroke="#c8c8c8" stroke-width="0.6" stroke-dasharray="1,1.5"/>
<line x1="522.32" y1="29.80" x2="522.32" y2="208.50" stroke="#c8c8c8" stroke-width="0.6" stroke-dasharray="1,1.5"/>
<line x1="321.10" y1="193.67" x2="545.00" y2="193.67" stroke="#c8c8c8" stroke-width="0.6" stroke-dasharray="1,1.5"/>
<line x1="321.10" y1="163.88" x2="545.00" y2="163.88" stroke="#c8c8c8" stroke-width="0.6" stroke-dasharray="1,1.5"/>
<line x1="321.10" y1="134.10" x2="545.00" y2="134.10" stroke="#c8c8c8" stroke-width="0.6" stroke-dasharray="1,1.5"/>
<line x1="321.10" y1="104.32" x2="545.00" y2="104.32" stroke="#c8c8c8" stroke-width="0.6" stroke-dasharray="1,1.5"/>
<line x1="321.10" y1="74.53" x2="545.00" y2="74.53" stroke="#c8c8c8" stroke-width="0.6" stroke-dasharray="1,1.5"/>
<line x1="321.10" y1="44.75" x2="545.00" y2="44.75" stroke="#c8c8c8" stroke-width="0.6" stroke-dasharray="1,1.5"/>
<line x1="343.28" y1="208.50" x2="343.28" y2="211.50" stroke="#222" stroke-width="1.1" />
<text x="343.28" y="220.70" font-family="'Liberation Serif', serif" font-size="8.6" font-weight="bold" font-style="normal" fill="#111" text-anchor="middle" >-200</text>
<line x1="388.04" y1="208.50" x2="388.04" y2="211.50" stroke="#222" stroke-width="1.1" />
<text x="388.04" y="220.70" font-family="'Liberation Serif', serif" font-size="8.6" font-weight="bold" font-style="normal" fill="#111" text-anchor="middle" >-100</text>
<line x1="432.80" y1="208.50" x2="432.80" y2="211.50" stroke="#222" stroke-width="1.1" />
<text x="432.80" y="220.70" font-family="'Liberation Serif', serif" font-size="8.6" font-weight="bold" font-style="normal" fill="#111" text-anchor="middle" >0</text>
<line x1="477.56" y1="208.50" x2="477.56" y2="211.50" stroke="#222" stroke-width="1.1" />
<text x="477.56" y="220.70" font-family="'Liberation Serif', serif" font-size="8.6" font-weight="bold" font-style="normal" fill="#111" text-anchor="middle" >100</text>
<line x1="522.32" y1="208.50" x2="522.32" y2="211.50" stroke="#222" stroke-width="1.1" />
<text x="522.32" y="220.70" font-family="'Liberation Serif', serif" font-size="8.6" font-weight="bold" font-style="normal" fill="#111" text-anchor="middle" >200</text>
<line x1="365.66" y1="208.50" x2="365.66" y2="210.30" stroke="#222" stroke-width="1.0" />
<line x1="410.42" y1="208.50" x2="410.42" y2="210.30" stroke="#222" stroke-width="1.0" />
<line x1="455.18" y1="208.50" x2="455.18" y2="210.30" stroke="#222" stroke-width="1.0" />
<line x1="499.94" y1="208.50" x2="499.94" y2="210.30" stroke="#222" stroke-width="1.0" />
<line x1="318.10" y1="193.67" x2="321.10" y2="193.67" stroke="#222" stroke-width="1.1" />
<text x="315.60" y="196.67" font-family="'Liberation Serif', serif" font-size="8.6" font-weight="bold" font-style="normal" fill="#111" text-anchor="end" >-40.0</text>
<line x1="318.10" y1="163.88" x2="321.10" y2="163.88" stroke="#222" stroke-width="1.1" />
<text x="315.60" y="166.88" font-family="'Liberation Serif', serif" font-size="8.6" font-weight="bold" font-style="normal" fill="#111" text-anchor="end" >-20.0</text>
<line x1="318.10" y1="134.10" x2="321.10" y2="134.10" stroke="#222" stroke-width="1.1" />
<text x="315.60" y="137.10" font-family="'Liberation Serif', serif" font-size="8.6" font-weight="bold" font-style="normal" fill="#111" text-anchor="end" >0.0</text>
<line x1="318.10" y1="104.32" x2="321.10" y2="104.32" stroke="#222" stroke-width="1.1" />
<text x="315.60" y="107.32" font-family="'Liberation Serif', serif" font-size="8.6" font-weight="bold" font-style="normal" fill="#111" text-anchor="end" >20.0</text>
<line x1="318.10" y1="74.53" x2="321.10" y2="74.53" stroke="#222" stroke-width="1.1" />
<text x="315.60" y="77.53" font-family="'Liberation Serif', serif" font-size="8.6" font-weight="bold" font-style="normal" fill="#111" text-anchor="end" >40.0</text>
<line x1="318.10" y1="44.75" x2="321.10" y2="44.75" stroke="#222" stroke-width="1.1" />
<text x="315.60" y="47.75" font-family="'Liberation Serif', serif" font-size="8.6" font-weight="bold" font-style="normal" fill="#111" text-anchor="end" >60.0</text>
<line x1="319.30" y1="178.78" x2="321.10" y2="178.78" stroke="#222" stroke-width="1.0" />
<line x1="319.30" y1="148.99" x2="321.10" y2="148.99" stroke="#222" stroke-width="1.0" />
<line x1="319.30" y1="119.21" x2="321.10" y2="119.21" stroke="#222" stroke-width="1.0" />
<line x1="319.30" y1="89.42" x2="321.10" y2="89.42" stroke="#222" stroke-width="1.0" />
<line x1="319.30" y1="59.64" x2="321.10" y2="59.64" stroke="#222" stroke-width="1.0" />
<line x1="321.10" y1="29.80" x2="545.00" y2="29.80" stroke="#666" stroke-width="1.4" />
<line x1="545.00" y1="29.80" x2="545.00" y2="208.50" stroke="#555" stroke-width="1.4" />
<line x1="321.10" y1="29.10" x2="321.10" y2="209.20" stroke="#333" stroke-width="1.5" />
<line x1="320.40" y1="208.50" x2="545.70" y2="208.50" stroke="#333" stroke-width="1.5" />
<text x="440.00" y="234.90" font-family="'Liberation Serif', serif" font-size="11" font-weight="bold" font-style="normal" fill="#111" text-anchor="middle" >Input Voltage (mV)</text>
<text transform="translate(296,125.3) rotate(-90)" font-family="Liberation Serif, serif" font-size="10.6" font-weight="bold" fill="#111" text-anchor="middle">Input Current (µA)</text>
<polyline points="432.8,134.1 456.5,105.1 477.9,78.4 496.4,58.4 510.2,48.6 520.6,49.6 522.3,59.8 508.6,94.2 493.8,110.6 473.2,122.0 451.8,130.8 427.8,134.7 402.4,137.3 383.4,140.8 365.3,147.8 352.5,156.2 344.6,165.2 343.2,176.2 349.0,183.6 360.5,187.0 375.8,182.2 396.0,169.4 419.1,148.7 432.8,134.1" fill="none" stroke="#000" stroke-width="2.8" stroke-linejoin="round"/>
<rect x="429.40" y="130.70" width="6.80" height="6.80" fill="#000" />
<rect x="453.10" y="101.70" width="6.80" height="6.80" fill="#000" />
<rect x="474.50" y="75.00" width="6.80" height="6.80" fill="#000" />
<rect x="493.00" y="55.00" width="6.80" height="6.80" fill="#000" />
<rect x="506.80" y="45.20" width="6.80" height="6.80" fill="#000" />
<rect x="517.20" y="46.20" width="6.80" height="6.80" fill="#000" />
<rect x="518.90" y="56.40" width="6.80" height="6.80" fill="#000" />
<rect x="505.20" y="90.80" width="6.80" height="6.80" fill="#000" />
<rect x="490.40" y="107.20" width="6.80" height="6.80" fill="#000" />
<rect x="469.80" y="118.60" width="6.80" height="6.80" fill="#000" />
<rect x="448.40" y="127.40" width="6.80" height="6.80" fill="#000" />
<rect x="424.40" y="131.30" width="6.80" height="6.80" fill="#000" />
<rect x="399.00" y="133.90" width="6.80" height="6.80" fill="#000" />
<rect x="380.00" y="137.40" width="6.80" height="6.80" fill="#000" />
<rect x="361.90" y="144.40" width="6.80" height="6.80" fill="#000" />
<rect x="349.10" y="152.80" width="6.80" height="6.80" fill="#000" />
<rect x="341.20" y="161.80" width="6.80" height="6.80" fill="#000" />
<rect x="339.80" y="172.80" width="6.80" height="6.80" fill="#000" />
<rect x="345.60" y="180.20" width="6.80" height="6.80" fill="#000" />
<rect x="357.10" y="183.60" width="6.80" height="6.80" fill="#000" />
<rect x="372.40" y="178.80" width="6.80" height="6.80" fill="#000" />
<rect x="392.60" y="166.00" width="6.80" height="6.80" fill="#000" />
<rect x="415.70" y="145.30" width="6.80" height="6.80" fill="#000" />
<polyline points="432.6,133.6 463.9,94.4 493.9,61.2 513.7,47.9 522.1,55.0 517.8,76.4 501.5,101.3 475.3,121.4 443.8,131.7 432.6,133.6 410.0,136.9 378.2,144.2 355.9,155.3 344.5,169.2 345.3,181.5 358.8,186.8 383.0,178.6 413.8,154.1 432.6,133.6" fill="none" stroke="#ee3b3b" stroke-width="2.4" stroke-dasharray="4,2.4"/>
<circle cx="432.6" cy="133.6" r="4.1" fill="#ee3b3b"/>
<circle cx="463.9" cy="94.4" r="4.1" fill="#ee3b3b"/>
<circle cx="493.9" cy="61.2" r="4.1" fill="#ee3b3b"/>
<circle cx="513.7" cy="47.9" r="4.1" fill="#ee3b3b"/>
<circle cx="522.1" cy="55.0" r="4.1" fill="#ee3b3b"/>
<circle cx="517.8" cy="76.4" r="4.1" fill="#ee3b3b"/>
<circle cx="501.5" cy="101.3" r="4.1" fill="#ee3b3b"/>
<circle cx="475.3" cy="121.4" r="4.1" fill="#ee3b3b"/>
<circle cx="443.8" cy="131.7" r="4.1" fill="#ee3b3b"/>
<circle cx="432.6" cy="133.6" r="4.1" fill="#ee3b3b"/>
<circle cx="410.0" cy="136.9" r="4.1" fill="#ee3b3b"/>
<circle cx="378.2" cy="144.2" r="4.1" fill="#ee3b3b"/>
<circle cx="355.9" cy="155.3" r="4.1" fill="#ee3b3b"/>
<circle cx="344.5" cy="169.2" r="4.1" fill="#ee3b3b"/>
<circle cx="345.3" cy="181.5" r="4.1" fill="#ee3b3b"/>
<circle cx="358.8" cy="186.8" r="4.1" fill="#ee3b3b"/>
<circle cx="383.0" cy="178.6" r="4.1" fill="#ee3b3b"/>
<circle cx="413.8" cy="154.1" r="4.1" fill="#ee3b3b"/>
<rect x="322.40" y="32.30" width="127.10" height="12.00" fill="#fff" stroke="#aaa" stroke-width="0.7" />
<line x1="323.50" y1="38.40" x2="342.00" y2="38.40" stroke="#000" stroke-width="2.6" />
<rect x="330.00" y="35.00" width="7.00" height="7.00" fill="#000" />
<text x="344.90" y="40.90" font-family="'Liberation Serif', serif" font-size="8.4" font-weight="bold" font-style="italic" fill="#111" text-anchor="start" >Pre-layout</text>
<line x1="383.20" y1="38.20" x2="388.20" y2="38.20" stroke="#ee3b3b" stroke-width="2.6" />
<circle cx="393.2" cy="38.2" r="4.1" fill="#ee3b3b"/>
<text x="404.80" y="40.90" font-family="'Liberation Serif', serif" font-size="8.4" font-weight="bold" font-style="italic" fill="#111" text-anchor="start" >Post-layout</text>
</g>

<text x="117.6" y="267.3" font-family="'Liberation Serif', serif" font-size="16" fill="#111" text-anchor="middle">(<tspan font-weight="bold">a</tspan>)</text>
<text x="427.2" y="266.8" font-family="'Liberation Serif', serif" font-size="16" fill="#111" text-anchor="middle">(<tspan font-weight="bold">b</tspan>)</text>

</svg>
</body></html>
